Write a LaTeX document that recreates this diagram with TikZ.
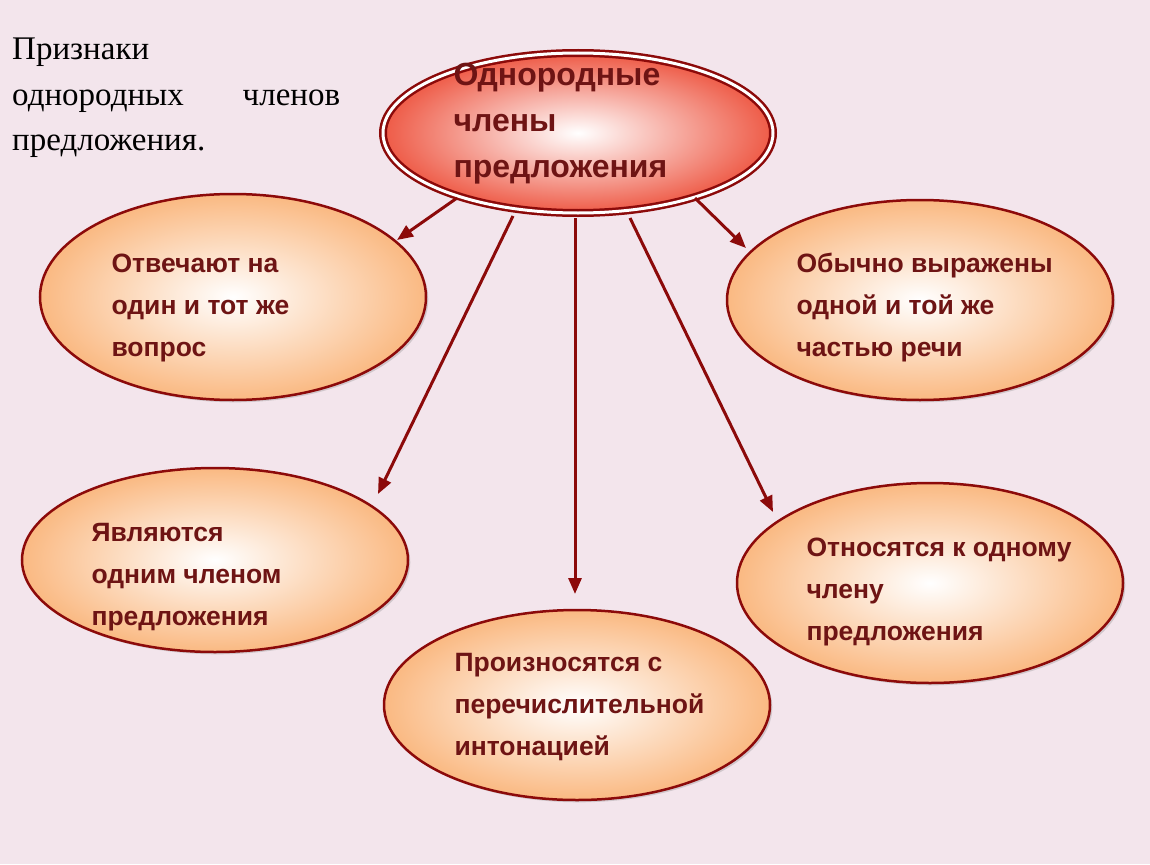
\documentclass[tikz,border=0pt]{standalone}
\usepackage{fontspec}
\setmainfont{Liberation Serif}
\newfontfamily\sansb{Liberation Sans}
\usetikzlibrary{arrows.meta,shadows,shapes.geometric}
\definecolor{bg}{RGB}{243,229,236}
\definecolor{dred}{RGB}{140,10,10}
\definecolor{txt}{RGB}{110,20,20}
\definecolor{orng}{RGB}{250,185,130}
\definecolor{topred}{RGB}{238,90,70}
\tikzset{
 oval/.style={ellipse, draw=dred, line width=2.5pt, inner color=white, outer color=orng, drop shadow={opacity=0.3}},
 lab/.style={font=\sansb\bfseries\fontsize{26.5}{42}\selectfont, text=txt, align=left, anchor=north west},
 arr/.style={draw=dred, line width=3pt, -{Triangle[length=16pt,width=13pt]}}
}
\begin{document}
\begin{tikzpicture}[x=1pt,y=-1pt]
\fill[bg] (0,0) rectangle (1150,864);
\useasboundingbox (0,0) rectangle (1150,864);
\node[anchor=north west, align=left, inner sep=0pt, font=\fontsize{33}{45.5}\selectfont] (ttl) at (12,38) {Признаки\\\makebox[328pt][s]{однородных членов}\\предложения.};
\node[oval, minimum width=390pt, minimum height=160pt, inner color=white, outer color=topred, double=white, double distance=3pt] (c) at (578,133) {};
\node[oval, minimum width=386pt, minimum height=206pt] (a) at (233,297) {};
\node[oval, minimum width=386pt, minimum height=200pt] (b) at (920,300) {};
\node[oval, minimum width=386pt, minimum height=184pt] (d) at (215,560) {};
\node[oval, minimum width=386pt, minimum height=190pt] (e) at (577,705) {};
\node[oval, minimum width=386pt, minimum height=200pt] (f) at (930,583) {};
\node[lab, font=\sansb\bfseries\fontsize{32}{46}\selectfont] (ct) at (450,60) {Однородные\\члены\\предложения};
\node[lab] (at) at (108,250) {Отвечают на\\один и тот же\\вопрос};
\node[lab] (bt) at (793,250) {Обычно выражены\\одной и той же\\частью речи};
\node[lab] (dt) at (88,520) {Являются\\одним членом\\предложения};
\node[lab] (et) at (451,650) {Произносятся с\\перечислительной\\интонацией};
\node[lab] (ft) at (803,534) {Относятся к одному\\члену\\предложения};
\coordinate (s1) at (457,198); \coordinate (t1) at (397,240);
\coordinate (s2) at (513,216); \coordinate (t2) at (378,494);
\coordinate (s3) at (575,218); \coordinate (t3) at (575,594);
\coordinate (s4) at (630,218); \coordinate (t4) at (773,512);
\coordinate (s5) at (695,198); \coordinate (t5) at (746,248);
\foreach \i in {1,...,5} \draw[arr] (s\i) -- (t\i);
\end{tikzpicture}
\end{document}
